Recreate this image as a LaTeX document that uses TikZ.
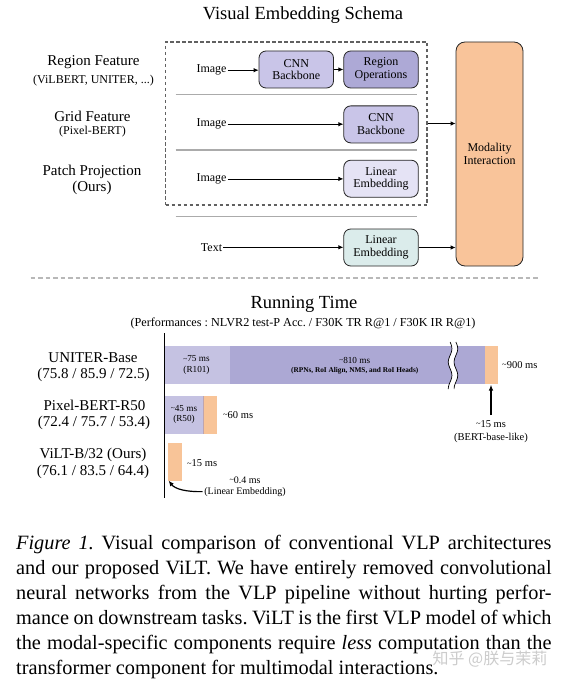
\documentclass[tikz,border=0pt]{standalone}
\usepackage{fontspec}
\usepackage{graphicx}
\setmainfont{Liberation Serif}
\newfontfamily\cjkfont{Noto Sans CJK SC}
\usetikzlibrary{arrows.meta}
\definecolor{cnnc}{RGB}{201,197,232}
\definecolor{regc}{RGB}{173,169,214}
\definecolor{linc}{RGB}{229,227,245}
\definecolor{txtc}{RGB}{219,236,235}
\definecolor{modc}{RGB}{249,196,154}
\definecolor{segA}{RGB}{197,194,226}
\definecolor{segB}{RGB}{172,168,212}
\definecolor{orc}{RGB}{248,196,152}
\newcommand\fsz[2]{\fontsize{#1}{#2}\selectfont}
\newcommand\tld{\raisebox{0.05em}{\scalebox{0.8}{\textasciitilde}}}
\frenchspacing
\begin{document}
\begin{tikzpicture}[x=1pt,y=-1pt,
  blk/.style={draw=black!85, line width=0.8pt, rounded corners=7pt, minimum width=74.5pt, minimum height=37pt, align=center, inner sep=0pt, font=\fsz{12}{12.7}},
  arr/.style={-{Latex[length=5pt,width=4.5pt]}, line width=0.8pt},
  lbl/.style={inner sep=0pt, font=\fsz{15}{15}},
  sub/.style={inner sep=0pt, font=\fsz{12}{12}},
  inp/.style={inner sep=1pt, font=\fsz{12}{12}},
  ann/.style={inner sep=0pt, font=\fsz{10.5}{12.7}, align=center},
  sml/.style={inner sep=0pt, font=\fsz{9.2}{10.2}, align=center},
  sepl/.style={draw=black!33, line width=1.3pt},
  capl/.style={anchor=base west, inner sep=0pt, font=\fsz{20.3}{25}}]
\useasboundingbox[fill=white] (0,0) rectangle (564,682);

% ---------- Visual Embedding Schema ----------
\node[font=\fsz{18.5}{20}, inner sep=0] (t1) at (303,15) {Visual Embedding Schema};

\node[draw=black!62, dash pattern=on 3.5pt off 2.5pt, line width=1.4pt,
      minimum width=261.5pt, minimum height=163pt, inner sep=0] (dbox) at (296.25,123.5) {};

\node[blk, fill=modc, minimum width=67pt, minimum height=224pt, rounded corners=9pt] (mod) at (489.5,154) {Modality\\Interaction};

\node[blk, fill=cnnc] (cnn1) at (296.25,69.5) {CNN\\Backbone};
\node[blk, fill=regc] (reg) at (381,69.5) {Region\\Operations};
\node[blk, fill=cnnc] (cnn2) at (381,124.4) {CNN\\Backbone};
\node[blk, fill=linc] (lin) at (381,178.7) {Linear\\Embedding};
\node[blk, fill=txtc] (tlin) at (381,247.5) {Linear\\Embedding};

\node[inp] (img1) at (211.5,70.2) {Image};
\node[inp] (img2) at (211.5,124.2) {Image};
\node[inp] (img3) at (211.5,178.9) {Image};
\node[inp] (txt) at (211.5,247.3) {Text};

\draw[arr] (img1.east) -- (img1.east -| cnn1.west);
\draw[arr] (cnn1.east) -- (reg.west);
\draw[arr] (img2.east) -- (img2.east -| cnn2.west);
\draw[arr] (img3.east) -- (img3.east -| lin.west);
\draw[arr] (txt.east) -- (txt.east -| tlin.west);
\draw[arr] (dbox.east) -- (dbox.east -| mod.west);
\draw[arr] (tlin.east) -- (tlin.east -| mod.west);

\draw[sepl] (175.5,94.3) -- (416.5,94.3);
\draw[sepl] (175.5,150) -- (416.5,150);
\draw[sepl] (175.5,216.7) -- (416.5,216.7);

\node[lbl] (l1) at (93.5,62) {Region Feature};
\node[sub] (l1s) at (93.5,80.7) {(ViLBERT, UNITER, ...)};
\node[lbl] (l2) at (92.5,116.5) {Grid Feature};
\node[sub] (l2s) at (92.5,131.5) {(Pixel-BERT)};
\node[lbl] (l3) at (92,171.7) {Patch Projection};
\node[lbl] (l3s) at (92,188) {(Ours)};

\draw[draw=black!28, line width=1.8pt, dash pattern=on 4.5pt off 3pt] (30.6,278.3) -- (539.6,278.3);

% ---------- Running Time ----------
\node[font=\fsz{18.5}{20}, inner sep=0] (t2) at (304,304) {Running Time};
\node[font=\fsz{12.2}{13}, inner sep=0] (perf) at (303,323.3) {(Performances : NLVR2 test-P Acc. / F30K TR R@1 / F30K IR R@1)};

% UNITER
\fill[segA] (164.9,345.7) rectangle (229.5,384);
\fill[segB] (229.5,345.7) rectangle (484.5,384);
\fill[orc] (484.5,345.7) rectangle (498.2,384);
\draw[white, line width=5pt] plot[domain=342:389, samples=60, smooth] ({453+1.8*sin((\x-342)*13.5)},\x);
\foreach \o in {-2.9,2.9}
  \draw[line width=0.7pt] plot[domain=342:389, samples=60, smooth] ({453+\o+1.8*sin((\x-342)*13.5)},\x);
\node[sml] (u1) at (196.5,365) {\tld75 ms\\(R101)};
\node[sml] (u2) at (354.7,360) {\tld810 ms};
\node[inner sep=0, font=\fsz{7.3}{8}\bfseries] (u3) at (354.7,370.5) {(RPNs, RoI Align, NMS, and RoI Heads)};
\node[ann, anchor=west] (u4) at (502,365) {\tld900 ms};

% Pixel-BERT
\fill[segA] (164.9,396) rectangle (203.2,433.5);
\fill[orc] (203.2,396) rectangle (217,433.5);
\draw[draw={rgb,255:red,190;green,165;blue,175}, line width=1pt] (203.2,396) -- (203.2,433.5);
\node[sml] (p1) at (184,414.2) {\tld45 ms\\(R50)};
\node[ann, anchor=west] (p2) at (223,415) {\tld60 ms};

% BERT arrow
\node[ann] (bl) at (491,431.5) {\tld15 ms\\(BERT-base-like)};
\coordinate (btail) at (491,415);
\coordinate (bhead) at (491,384.5);
\draw[-{Latex[length=6pt,width=4.5pt]}, line width=1.3pt] (btail) -- (bhead);

% ViLT
\fill[orc] (168,443.3) rectangle (181.7,480.7);
\node[ann, anchor=west] (v1) at (187,463.3) {\tld15 ms};
\node[ann, font=\fsz{10}{11.3}] (le) at (245,486.6) {\tld0.4 ms\\(Linear Embedding)};
\coordinate (ltail) at (202.5,491.6);
\coordinate (lhead) at (168.6,480.6);
\draw[-{Latex[length=5.5pt,width=4.5pt]}, line width=1.2pt] (ltail) .. controls (186,492) and (175,489) .. (lhead);

% axis
\draw[line width=1pt] (164.4,333.3) -- (164.4,498.3);

% model labels
\node[lbl] (m1) at (93,357.3) {UNITER-Base};
\node[lbl] (m1s) at (93.5,375) {(75.8 / 85.9 / 72.5)};
\node[lbl] (m2) at (94.5,405) {Pixel-BERT-R50};
\node[lbl] (m2s) at (94,422.7) {(72.4 / 75.7 / 53.4)};
\node[lbl] (m3) at (93,455) {ViLT-B/32 (Ours)};
\node[lbl] (m3s) at (93,471.7) {(76.1 / 83.5 / 64.4)};

% ---------- Caption ----------
\node[capl] (c1) at (16,549.5) {\hbox to 535.4pt{\textit{Figure 1.} Visual comparison of conventional VLP architectures}};
\node[capl] (c2) at (16,574.5) {\hbox to 535.4pt{and our proposed ViLT. We have entirely removed convolutional}};
\node[capl] (c3) at (16,599.5) {\hbox to 535.4pt{neural networks from the VLP pipeline without hurting perfor-}};
\node[capl] (c4) at (16,624.5) {\hbox to 535.4pt{mance on downstream tasks. ViLT is the first VLP model of which}};
\node[capl] (c5) at (16,649.5) {\hbox to 535.4pt{the modal-specific components require \textit{less} computation than the}};
\node[capl] (c6) at (16,674.5) {transformer component for multimodal interactions.};

\node[font=\cjkfont\fsz{16}{16}, text=black!20, inner sep=0] (wm) at (490,659) {知乎 @朕与茉莉};
\end{tikzpicture}
\end{document}
